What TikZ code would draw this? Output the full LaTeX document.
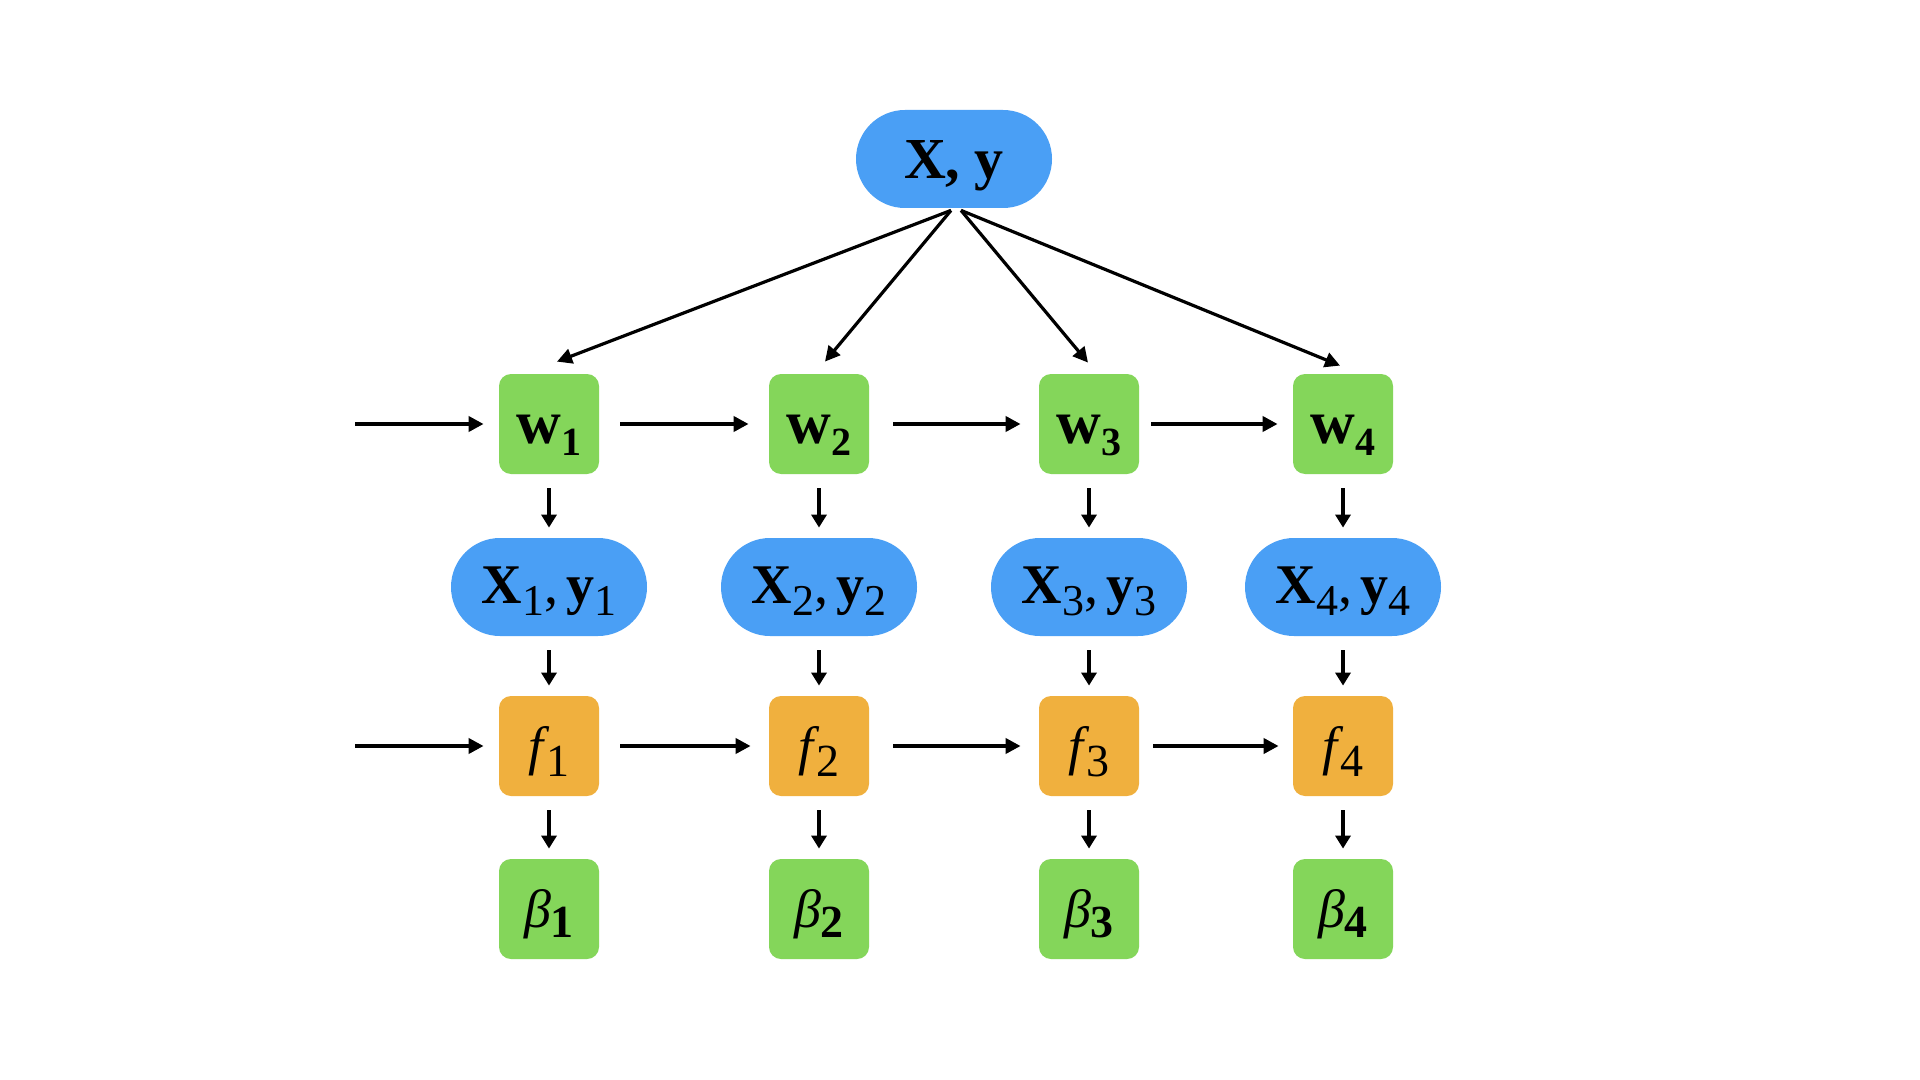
\documentclass[tikz,border=0pt]{standalone}
\usepackage{fontspec}
\setmainfont{Liberation Serif}
\usetikzlibrary{arrows.meta}
\definecolor{nblue}{HTML}{4A9FF5}
\definecolor{ngreen}{HTML}{84D65A}
\definecolor{norange}{HTML}{F0B03E}
% #1 size, #2 drop, #3 text
\newcommand{\lowsub}[3]{\raisebox{-#2}{\fontsize{#1}{#1}\selectfont #3}}
\begin{document}
\begin{tikzpicture}[x=0.5pt,y=-0.5pt,
  pill/.style={fill=nblue, rounded corners=24.5pt, minimum width=98pt, minimum height=49pt, inner sep=0pt, text depth=0pt},
  sqbox/.style={rounded corners=6pt, minimum width=50pt, minimum height=50pt, inner sep=0pt, text depth=0pt},
  wbox/.style={sqbox, fill=ngreen},
  fbox/.style={sqbox, fill=norange},
  arr/.style={line width=1.6pt, -{Triangle[length=7.5pt,width=7.5pt]}},
  harr/.style={line width=2pt, -{Triangle[length=7.5pt,width=7.5pt]}},
  varr/.style={line width=1.7pt, -{Triangle[length=6.5pt,width=7.5pt]}, shorten <=7pt, shorten >=5pt},
]
\fill[white] (0,0) rectangle (1920,1080);
\useasboundingbox (0,0) rectangle (1920,1080);

\node[pill, text height=20pt, font=\fontsize{29}{29}\selectfont\bfseries] (xy) at (954,159) {X, y};

\foreach \i/\cx in {1/549,2/819,3/1089,4/1343}{
  \node[wbox, text height=19pt, font=\fontsize{31}{31}\selectfont\bfseries] (w\i) at (\cx,424)
    {w\lowsub{20}{6pt}{\bfseries\i}};
  \node[pill, text height=16pt, font=\fontsize{28}{28}\selectfont] (d\i) at (\cx,587)
    {\textbf{X}\lowsub{22}{6pt}{\i},\kern4pt\textbf{y}\lowsub{22}{6pt}{\i}};
  \node[fbox, text height=18pt, font=\fontsize{27}{27}\selectfont] (f\i) at (\cx,746)
    {\textit{f}\kern-1.5pt\lowsub{23}{6pt}{\i}};
  \node[wbox, text height=18pt, font=\fontsize{27}{27}\selectfont] (b\i) at (\cx,909)
    {\textit{β}\lowsub{23}{5pt}{\bfseries\i}};
}

% top fan-out
\draw[arr] ([shift={(-3,2)}]xy.south) -- ([shift={(8,-12)}]w1.north);
\draw[arr] ([shift={(-3,2)}]xy.south) -- ([shift={(6,-12)}]w2.north);
\draw[arr] ([shift={(7,2)}]xy.south) -- ([shift={(-1,-11)}]w3.north);
\draw[arr] ([shift={(7,2)}]xy.south) -- ([shift={(-3,-8)}]w4.north);

% incoming
\coordinate (win) at (355,424);
\coordinate (fin) at (355,746);
\draw[harr] (win) -- ([shift={(-15,0)}]w1.west);
\draw[harr] (fin) -- ([shift={(-15,0)}]f1.west);

% horizontal chains
\draw[harr] ([shift={(21,0)}]w1.east) -- ([shift={(-20,0)}]w2.west);
\draw[harr] ([shift={(24,0)}]w2.east) -- ([shift={(-18,0)}]w3.west);
\draw[harr] ([shift={(12,0)}]w3.east) -- ([shift={(-15,0)}]w4.west);
\draw[harr] ([shift={(21,0)}]f1.east) -- ([shift={(-18,0)}]f2.west);
\draw[harr] ([shift={(24,0)}]f2.east) -- ([shift={(-18,0)}]f3.west);
\draw[harr] ([shift={(14,0)}]f3.east) -- ([shift={(-14,0)}]f4.west);

% vertical
\foreach \i in {1,2,3,4}{
  \draw[varr] (w\i.south) -- (d\i.north);
  \draw[varr] (d\i.south) -- (f\i.north);
  \draw[varr] (f\i.south) -- (b\i.north);
}
\end{tikzpicture}
\end{document}
